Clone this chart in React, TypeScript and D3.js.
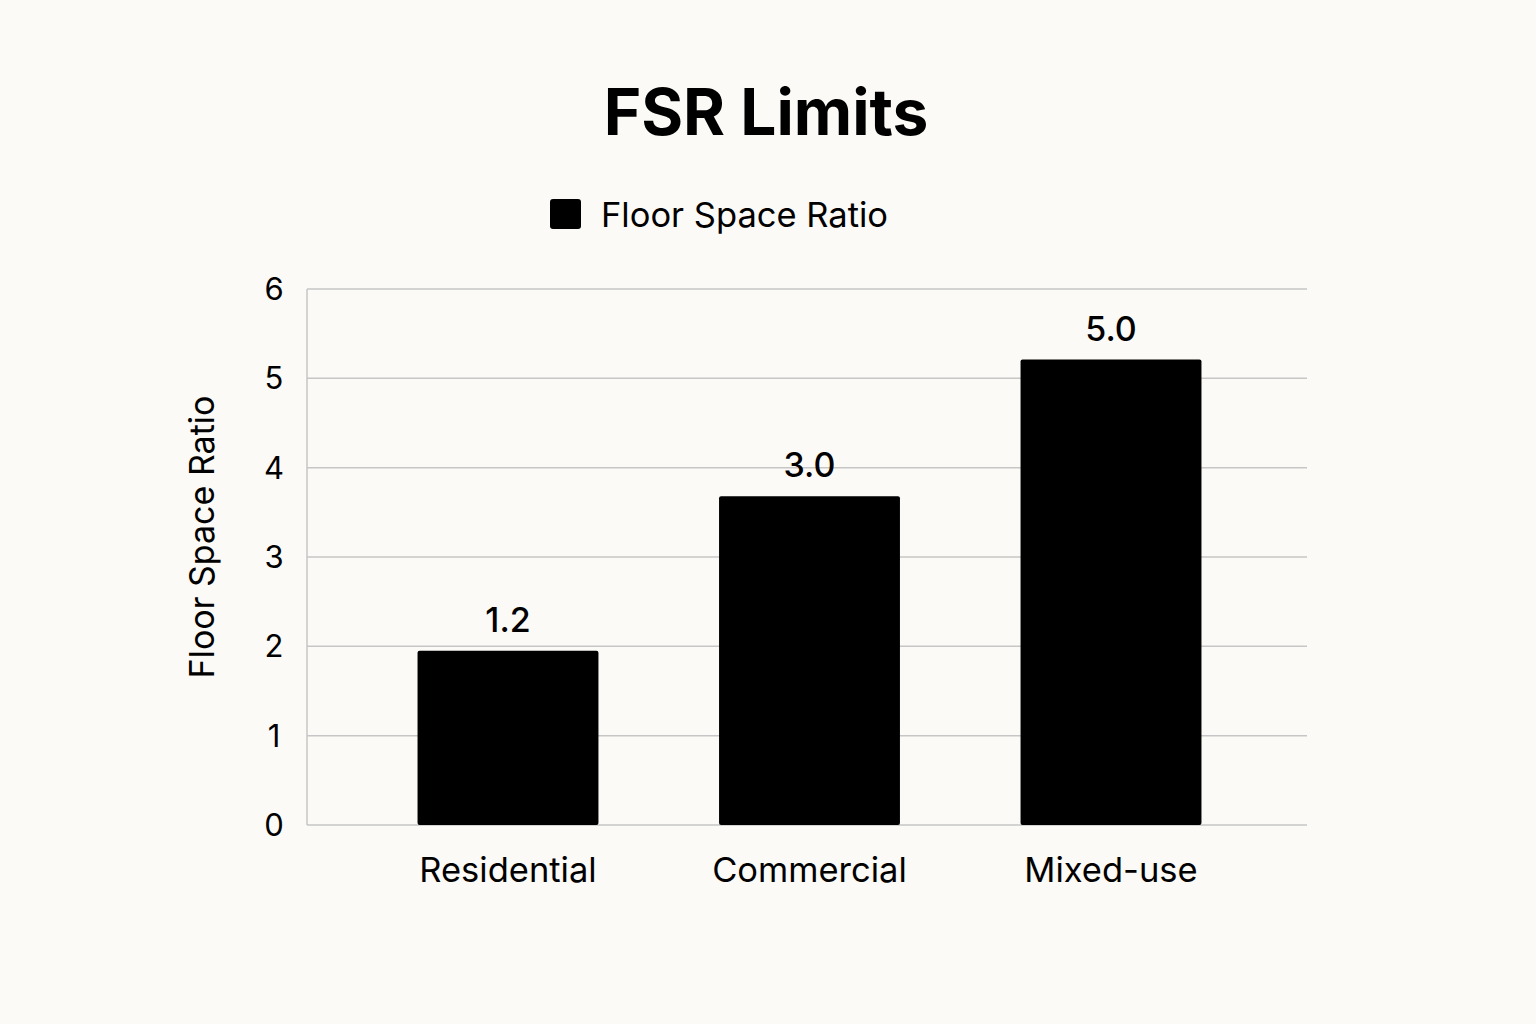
import React from 'react';
import * as d3 from 'd3';

const categories = ['Residential', 'Commercial', 'Mixed-use'];
// bar heights as drawn in the chart (the printed labels differ from them)
const barValues = [1.95, 3.68, 5.21];
const valueLabels = ['1.2', '3.0', '5.0'];
const yTicks = [0, 1, 2, 3, 4, 5, 6];

const W = 1536;
const H = 1024;
const left = 307;
const right = 1307;
const top = 289;
const bottom = 825;
const font = 'Inter, "Noto Sans", sans-serif';

const App = () => {
  const x = d3
    .scaleBand()
    .domain(categories)
    .range([309, 1310])
    .paddingInner(0.4)
    .paddingOuter(0.36);
  const y = d3.scaleLinear().domain([0, 6]).range([bottom, top]);

  return (
    <svg
      width={W}
      height={H}
      style={{ position: 'absolute', left: 0, top: 0, display: 'block' }}
      fontFamily={font}
    >
      <rect width={W} height={H} fill="#fcfaf6" />
      <text x={766} y={135} textAnchor="middle" fontSize={64} fontWeight={700} fill="#000">
        FSR Limits
      </text>

      {/* legend */}
      <rect x={550} y={199} width={31} height={30} rx={3} fill="#000" />
      <text x={601} y={227} fontSize={34.5} fill="#000">
        Floor Space Ratio
      </text>

      {/* grid */}
      {yTicks.map((t) => (
        <g key={t}>
          <line x1={left} x2={right} y1={y(t)} y2={y(t)} stroke="#c6c6c6" strokeWidth={1.5} />
          <text x={274} y={y(t)} dy="0.36em" textAnchor="middle" fontSize={31} fill="#000">
            {t}
          </text>
        </g>
      ))}
      <line x1={left} x2={left} y1={top} y2={bottom} stroke="#c6c6c6" strokeWidth={1.5} />

      {/* bars */}
      {categories.map((c, i) => (
        <g key={c}>
          <rect
            x={x(c)}
            y={y(barValues[i])}
            width={x.bandwidth()}
            height={bottom - y(barValues[i])}
            rx={2}
            fill="#000"
          />
          <text
            x={x(c)! + x.bandwidth() / 2}
            y={y(barValues[i]) - 19}
            textAnchor="middle"
            fontSize={34}
            fontWeight={500}
            fill="#000"
          >
            {valueLabels[i]}
          </text>
          <text
            x={x(c)! + x.bandwidth() / 2}
            y={882}
            textAnchor="middle"
            fontSize={34.5}
            fill="#000"
          >
            {c}
          </text>
        </g>
      ))}

      <text
        transform={`translate(214,537) rotate(-90)`}
        textAnchor="middle"
        fontSize={34}
        fill="#000"
      >
        Floor Space Ratio
      </text>
    </svg>
  );
};

export default App;
